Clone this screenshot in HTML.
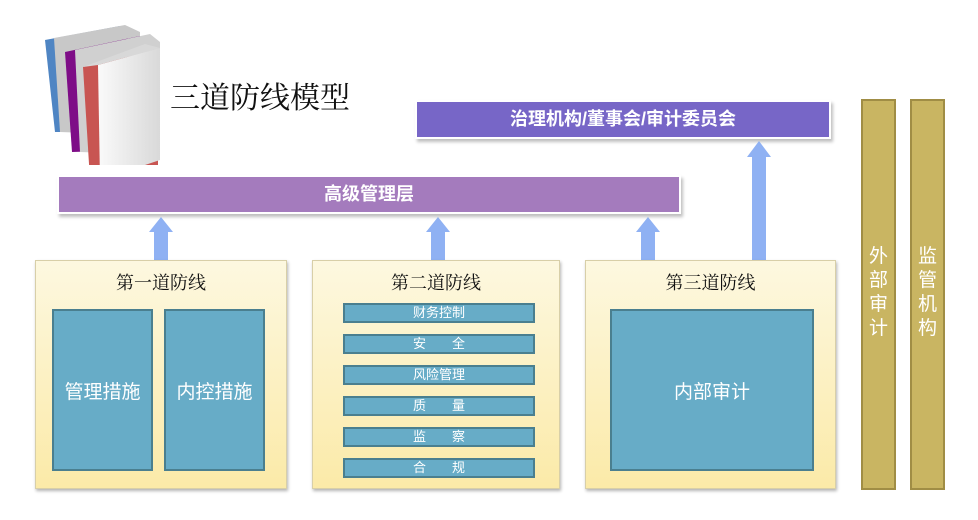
<!DOCTYPE html>
<html><head><meta charset="utf-8"><style>
*{margin:0;padding:0;box-sizing:border-box}
body{width:978px;height:520px;background:#fff;position:relative;overflow:hidden;font-family:"Liberation Sans","Noto Sans CJK SC",sans-serif}
.a{position:absolute}
.bar{position:absolute;color:#fff;font-weight:bold;font-size:18px;text-align:center;box-shadow:2px 3px 3px rgba(0,0,0,.25);border:2px solid #fff}
.box{position:absolute;background:linear-gradient(#fdf8e0,#fbeaa8);border:1px solid #d8cfa8;box-shadow:1px 2px 3px rgba(0,0,0,.3)}
.box h3{font-family:"Liberation Serif","Noto Serif CJK SC",serif;font-weight:normal;font-size:18px;text-align:center;margin-top:8px;color:#111}
.in{position:absolute;background:#67acc7;border:2px solid #4a7f8f;color:#fff;font-size:19px;display:flex;align-items:center;justify-content:center}
.it{position:absolute;left:30px;width:192px;height:20px;background:#67acc7;border:2px solid #4a7f8f;color:#fff;font-size:13px;text-align:center;line-height:16px}
.col{position:absolute;top:99px;width:35px;height:391px;background:#c9b562;border:2px solid #a08d45;color:#fff;font-size:19px;text-align:center;line-height:24px;padding-top:144px}
</style></head><body>
<svg class="a" style="left:40px;top:20px" width="130" height="145">
<polygon points="5,20 80,6 80,112 15,112" fill="#4f85c3"/>
<polygon points="14,18 85,5 100,12 100,115 20,112" fill="#c8c8c8"/>
<polygon points="25,32 100,16 100,130 32,132" fill="#7e0d87"/>
<polygon points="35,30 110,14 120,22 120,135 40,132" fill="#d0d0d0"/>
<polygon points="43,47 118,30 118,150 50,160" fill="#c85552"/>
<defs><linearGradient id="g" x1="0" x2="1"><stop offset="0" stop-color="#fafafa"/><stop offset="1" stop-color="#d9d9d9"/></linearGradient></defs>
<polygon points="58,45 120,28 120,140 60,160" fill="url(#g)"/>
<polygon points="43,47 58,45 120,28 105,24" fill="#d8d8d8"/>
</svg>
<div class="a" style="left:170px;top:73px;font-size:30px;font-family:'Liberation Serif','Noto Serif CJK SC',serif;color:#111">三道防线模型</div>
<div class="bar" style="left:415px;top:100px;width:416px;height:39px;background:#7766c7;line-height:35px">治理机构/董事会/审计委员会</div>
<div class="bar" style="left:57px;top:175px;width:624px;height:39px;background:#a47bbd;line-height:35px">高级管理层</div>
<svg class="a" style="left:0;top:0" width="978" height="520">
<g fill="#8fb1f3">
<path d="M154,260V232H149L161,217L173,232H168V260Z"/>
<path d="M431,260V232H426L438,217L450,232H445V260Z"/>
<path d="M641,260V232H636L648,217L660,232H655V260Z"/>
<path d="M752,260V157H747L759,141L771,157H766V260Z"/>
</g></svg>
<div class="box" style="left:35px;top:260px;width:252px;height:229px"><h3>第一道防线</h3>
<div class="in" style="left:16px;top:48px;width:101px;height:162px">管理措施</div>
<div class="in" style="left:128px;top:48px;width:101px;height:162px">内控措施</div></div>
<div class="box" style="left:312px;top:260px;width:248px;height:229px"><h3>第二道防线</h3>
<div class="it" style="top:42px">财务控制</div>
<div class="it" style="top:73px">安&emsp;&emsp;全</div>
<div class="it" style="top:104px">风险管理</div>
<div class="it" style="top:135px">质&emsp;&emsp;量</div>
<div class="it" style="top:166px">监&emsp;&emsp;察</div>
<div class="it" style="top:197px">合&emsp;&emsp;规</div></div>
<div class="box" style="left:585px;top:260px;width:251px;height:229px"><h3>第三道防线</h3>
<div class="in" style="left:24px;top:48px;width:204px;height:162px">内部审计</div></div>
<div class="col" style="left:861px">外<br>部<br>审<br>计</div>
<div class="col" style="left:910px">监<br>管<br>机<br>构</div>
</body></html>
